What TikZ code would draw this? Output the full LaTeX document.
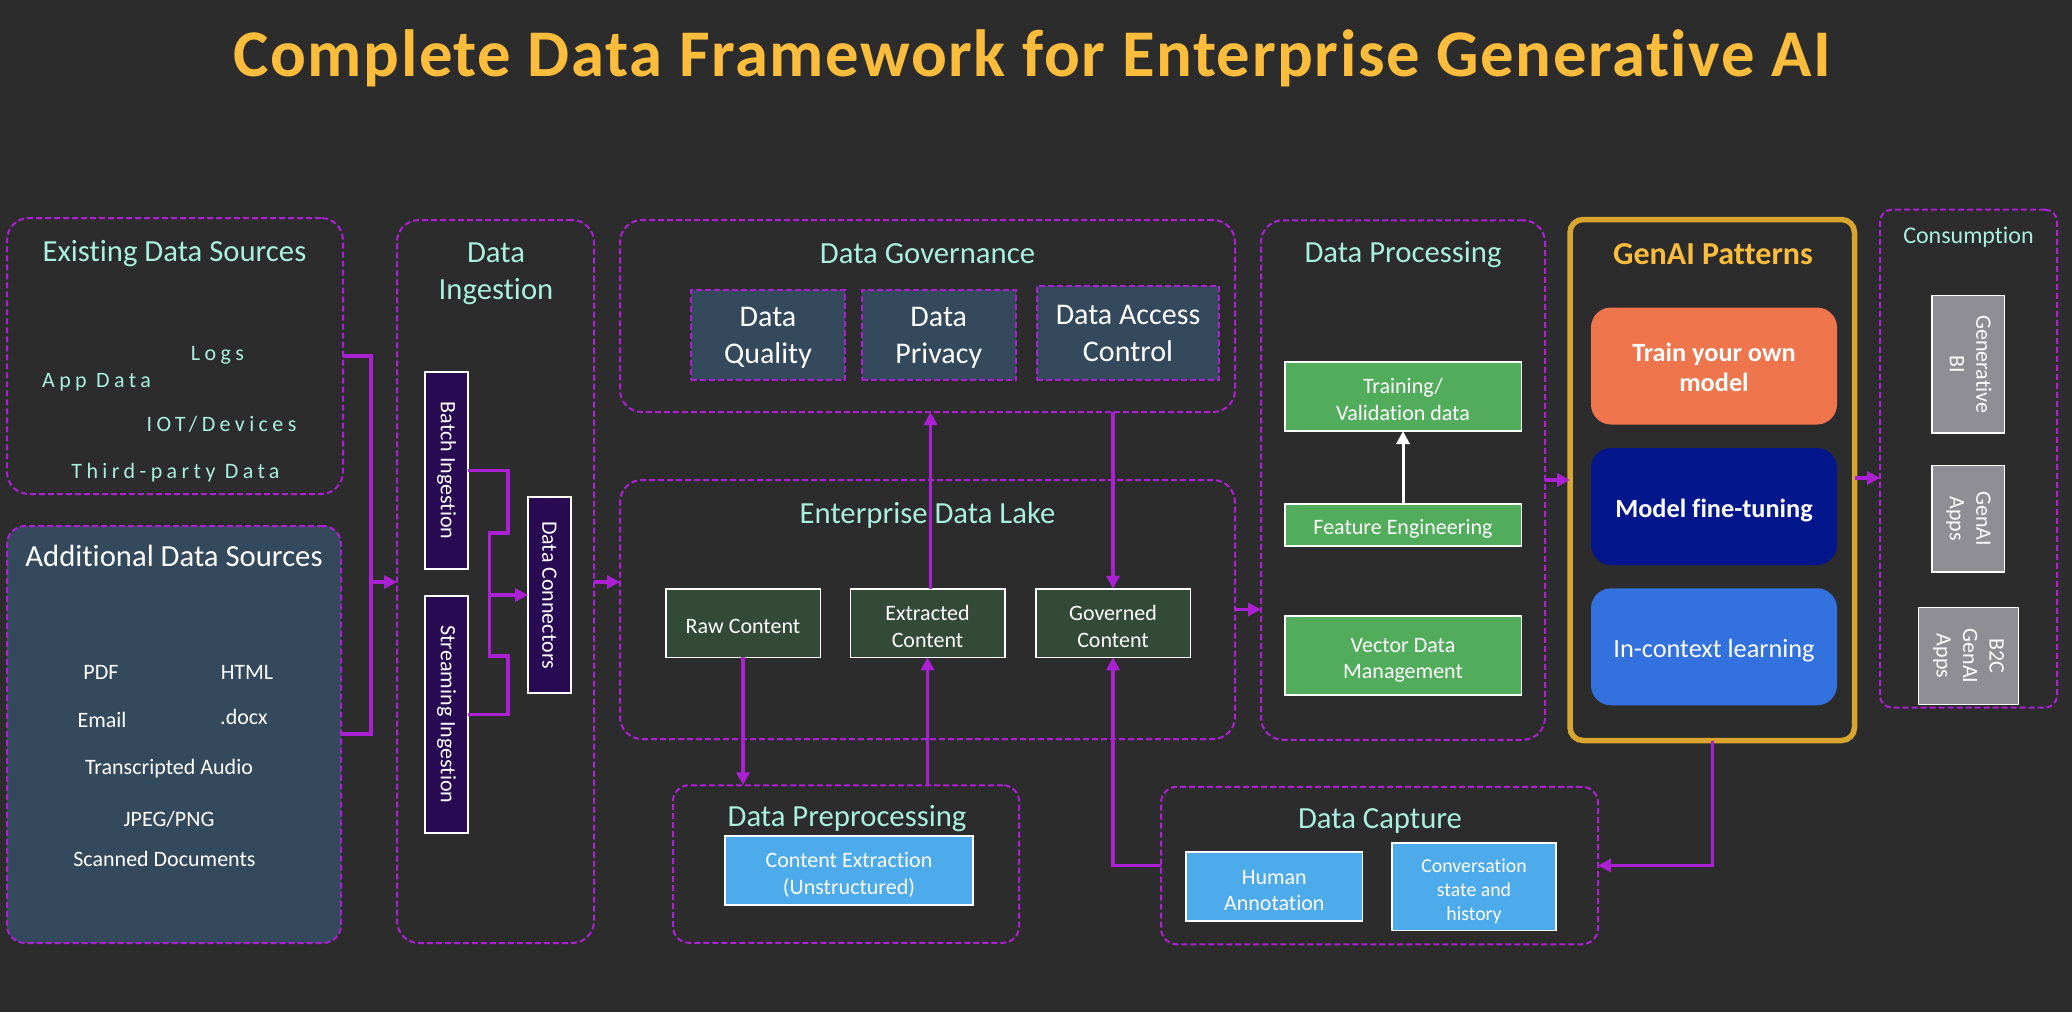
\documentclass[tikz,border=0pt]{standalone}
\usepackage{fontspec}
\setmainfont{Carlito}[Ligatures=NoCommon]
\usepackage{tikz}
\usetikzlibrary{calc,arrows.meta}
\definecolor{pagebg}{HTML}{2C2C2C}
\definecolor{flowc}{HTML}{AC20D4}
\definecolor{mintc}{HTML}{A9F0DE}
\definecolor{goldc}{HTML}{FDBD3C}
\definecolor{framec}{HTML}{D8A62E}
\definecolor{slatec}{HTML}{34495C}
\definecolor{inkc}{HTML}{280A52}
\definecolor{mossc}{HTML}{344A38}
\definecolor{skyc}{HTML}{4DABEB}
\definecolor{leafc}{HTML}{51AD5C}
\definecolor{greyc}{HTML}{8F8E94}
\definecolor{trainc}{HTML}{EF754D}
\definecolor{tunec}{HTML}{04168C}
\definecolor{contextc}{HTML}{3271DE}
\tikzset{
    group/.style={draw=flowc,line width=2pt,dash pattern=on 6pt off 3pt,rounded corners=22pt,outer sep=0pt,inner sep=0pt},
    panel/.style={draw=flowc,line width=2pt,dash pattern=on 6pt off 3pt,fill=slatec,outer sep=0pt,inner sep=0pt,text=white,align=center,font=\fontsize{30}{37}\selectfont},
    whitebox/.style={draw=white,line width=1.5pt,outer sep=0pt,inner sep=0pt,text=white,align=center,font=\fontsize{22}{26.5}\selectfont},
    lowtext/.style={execute at begin node=\rule{0pt}{#1}},
    textbox/.style={whitebox,lowtext=#1},
    textbox/.default=2.2em,
    pattern/.style={rounded corners=20pt,outer sep=0pt,inner sep=0pt,text=white,align=center,minimum width=246pt,minimum height=117pt,lowtext=1em},
    heading/.style={text=mintc,align=center,inner sep=0pt,yshift=-2.5pt,font=\fontsize{30.7}{37}\selectfont},
    source/.style={text=mintc,inner sep=0pt,yshift=-2.5pt,font=\fontsize{22}{26}\selectfont\addfontfeatures{LetterSpace=20}},
    file/.style={text=white,inner sep=0pt,yshift=-1.5pt,font=\fontsize{22}{26}\selectfont},
    flow/.style={draw=flowc,line width=3.5pt},
}
\begin{document}
\begin{tikzpicture}[x=1pt,y=-1pt,>={Triangle[length=13pt,width=13pt]}]
        \useasboundingbox(0,0)rectangle(2072,1012);
        \fill[pagebg](0,0)rectangle(2072,1012);
        % Title
        \node[text=goldc,inner sep=0pt,font=\fontsize{66.7}{80}\bfseries\selectfont\addfontfeatures{LetterSpace=2.4}](title)at(1032.5,58.5){Complete Data Framework for Enterprise Generative AI};
        % Existing sources
        \node[group,minimum width=336pt,minimum height=276pt](existing)at(175,356){};
        \node[heading](existingT)at(174.5,251){Existing Data Sources};
        \node[source](logs)at(217.5,353){Logs};
        \node[source](appdata)at(96.5,380){App Data};
        \node[source](iot)at(221.5,422){IOT/Devices};
        \node[source](thirdparty)at(175.5,470){Third-party Data};
        % Additional sources
        \node[group,fill=slatec,rounded corners=18pt,minimum width=334pt,minimum height=417pt](additional)at(174,734.5){};
        \node[heading,text=white,font=\fontsize{30.7}{36}\selectfont](additionalT)at(174,553.5){Additional Data Sources};
        \node[file](pdf)at(101,671){PDF};
        \node[file](html)at(247,671){HTML};
        \node[file](email)at(102,718){Email};
        \node[file](docx)at(244,715){.docx};
        \node[file](audio)at(169,767){Transcripted Audio};
        \node[file](jpeg)at(169,817.5){JPEG/PNG};
        \node[file](scanned)at(164.5,857){Scanned Documents};
        % Ingestion
        \node[group,minimum width=197pt,minimum height=723pt](ingestion)at(495.5,581.5){};
        \node[heading](ingestionT)at(496,271){Data\\Ingestion};
        \node[whitebox,fill=inkc,minimum width=43pt,minimum height=197pt](batch)at(446.5,470.5){\rotatebox{-90}{Batch Ingestion}};
        \node[whitebox,fill=inkc,minimum width=43pt,minimum height=237pt](streaming)at(446.5,714.5){\rotatebox{-90}{Streaming Ingestion}};
        \node[whitebox,fill=inkc,minimum width=43pt,minimum height=196pt](connectors)at(549.5,595){\rotatebox{-90}{Data Connectors}};
        % Governance
        \node[group,minimum width=615pt,minimum height=192pt](governance)at(927.5,316){};
        \node[heading](governanceT)at(927.5,251){Data Governance};
        \node[panel,lowtext=2.07em,minimum width=154pt,minimum height=90pt](quality)at(768,335){Data\\Quality};
        \node[panel,lowtext=2.07em,minimum width=154.5pt,minimum height=90pt](privacy)at(938.75,335){Data\\Privacy};
        \node[panel,minimum width=182pt,minimum height=94pt](access)at(1128,333){Data Access\\Control};
        % Data lake
        \node[group,minimum width=615pt,minimum height=259pt](lake)at(927.5,609.5){};
        \node[heading](lakeT)at(927.5,512.5){Enterprise Data Lake};
        \node[textbox=0.95em,fill=mossc,minimum width=154.5pt,minimum height=68.5pt](raw)at(743,623){Raw Content};
        \node[textbox,fill=mossc,minimum width=154.5pt,minimum height=68.5pt](extracted)at(927.5,623){Extracted\\Content};
        \node[textbox,fill=mossc,minimum width=154.5pt,minimum height=68.5pt](governed)at(1113,623){Governed\\Content};
        % Preprocessing
        \node[group,rounded corners=16pt,minimum width=346pt,minimum height=157.5pt](preproc)at(846,864){};
        \node[heading](preprocT)at(847,816.5){Data Preprocessing};
        \node[textbox=2.3em,fill=skyc,minimum width=248pt,minimum height=69pt](extraction)at(849,870.5){Content Extraction\\(Unstructured)};
        % Capture
        \node[group,rounded corners=16pt,minimum width=437pt,minimum height=157.5pt](capture)at(1379.5,865.5){};
        \node[heading](captureT)at(1380,818.5){Data Capture};
        \node[textbox,fill=skyc,minimum width=176.6pt,minimum height=69pt](human)at(1274.3,886.5){Human\\Annotation};
        \node[textbox=3.56em,fill=skyc,font=\fontsize{19.8}{24}\selectfont,minimum width=164pt,minimum height=87.5pt](conversation)at(1474,886.8){Conversation\\state and\\history};
        % Processing
        \node[group,minimum width=284pt,minimum height=519.5pt](processing)at(1403,480){};
        \node[heading](processingT)at(1403,252){Data Processing};
        \node[textbox=2.15em,fill=leafc,minimum width=236.5pt,minimum height=69pt](training)at(1403,396.5){Training/\\Validation data};
        \node[textbox=1.05em,fill=leafc,minimum width=236.5pt,minimum height=42pt](feature)at(1403,525){Feature Engineering};
        \node[textbox=2.3em,fill=leafc,minimum width=236.5pt,minimum height=79pt](vector)at(1403,655.5){Vector Data\\Management};
        % GenAI patterns
        \node[draw=framec,line width=5.5pt,rounded corners=13pt,outer sep=0pt,minimum width=284.5pt,minimum height=521pt](patterns)at(1712.25,480){};
        \node[heading,text=goldc,font=\fontsize{32}{36}\bfseries\selectfont](patternsT)at(1713,252){GenAI Patterns};
        \node[pattern,lowtext=1.96em,fill=trainc,font=\fontsize{26.3}{30}\bfseries\selectfont](train)at(1714,366){Train your own\\model};
        \node[pattern,fill=tunec,font=\fontsize{26.3}{30}\bfseries\selectfont](tuning)at(1714,506.5){Model fine-tuning};
        \node[pattern,fill=contextc,font=\fontsize{26.3}{30}\selectfont](incontext)at(1714,646.8){In-context learning};
        % Consumption
        \node[group,rounded corners=12pt,minimum width=177pt,minimum height=498pt](consumption)at(1968.5,458.6){};
        \node[heading,font=\fontsize{24}{28}\selectfont](consumptionT)at(1968.5,235){Consumption};
        \node[whitebox,fill=greyc,minimum width=72.6pt,minimum height=137.5pt](bi)at(1968.3,364.3){\rotatebox{-90}{\begin{tabular}{@{}c@{}}Generative\\BI\end{tabular}}};
        \node[whitebox,fill=greyc,minimum width=72.6pt,minimum height=106.4pt](genai)at(1968.3,518.8){\rotatebox{-90}{\begin{tabular}{@{}c@{}}GenAI\\Apps\end{tabular}}};
        \node[whitebox,fill=greyc,minimum width=100pt,minimum height=97pt](btoc)at(1968.5,656){\rotatebox{-90}{\begin{tabular}{@{}c@{}}B2C\\GenAI\\Apps\end{tabular}}};
        % Source bus
        \coordinate(busTop)at(371,356);
        \coordinate(busMid)at(371,582);
        \coordinate(busBottom)at(371,734);
        \draw[flow](existing.east|-busTop)--(busTop)--(busBottom)--(additional.east|-busBottom);
        \draw[flow,->](busMid)--(ingestion.west|-busMid);
        % Ingestion merge
        \coordinate(stepA)at(508,470.5);
        \coordinate(stepB)at(508,533);
        \coordinate(stepC)at(489.5,533);
        \coordinate(stepD)at(489.5,656);
        \coordinate(stepE)at(508,656);
        \coordinate(stepF)at(508,714.5);
        \draw[flow](batch.east)--(stepA)--(stepB)--(stepC)--(stepD)--(stepE)--(stepF)--(streaming.east);
        \draw[flow,->](stepC|-connectors.west)--(connectors.west);
        % Main flow
        \coordinate(outUp)at(930.5,589);
        \coordinate(outRight)at(1855,478);
        \draw[flow,->](ingestion.east|-busMid)--(lake.west|-busMid);
        \draw[flow,->](extracted.north-|outUp)--(governance.south-|outUp);
        \draw[flow,->](governance.south-|governed.north)--(governed.north);
        \draw[flow,->](raw.south)--(preproc.north-|raw.south);
        \draw[flow,->](preproc.north-|extracted.south)--(extracted.south);
        \draw[flow,->](capture.west)--(governed.south|-capture.west)--(governed.south);
        \draw[flow,->](lake.east)--(processing.west|-lake.east);
        \draw[flow,->](processing.east)--(patterns.west);
        \draw[flow,->](outRight)--(consumption.west|-outRight);
        \draw[flow,->](patterns.south)--(patterns.south|-capture.east)--(capture.east);
        \draw[draw=white,line width=3pt,->](feature.north)--(training.south);
    \end{tikzpicture}
\end{document}
